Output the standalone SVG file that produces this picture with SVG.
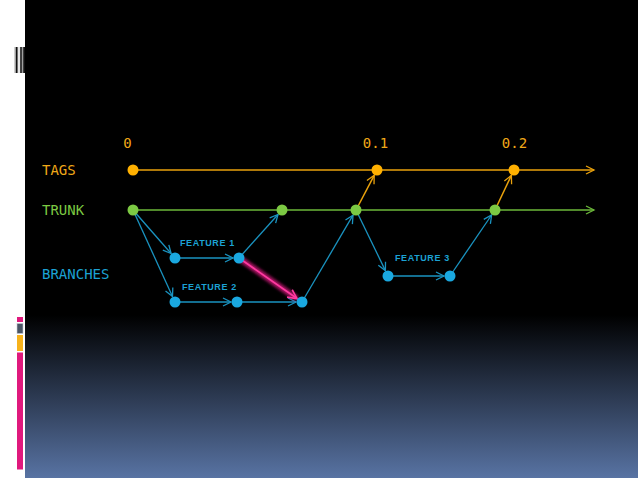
<svg xmlns="http://www.w3.org/2000/svg" width="638" height="478" viewBox="0 0 638 478">
<defs>
<linearGradient id="bg" gradientUnits="userSpaceOnUse" x1="0" y1="315" x2="0" y2="478">
<stop offset="0" stop-color="#000000"/>
<stop offset="1" stop-color="#5873a3"/>
</linearGradient>
<marker id="aB" markerUnits="userSpaceOnUse" markerWidth="12" markerHeight="12" refX="8" refY="4" orient="auto" overflow="visible">
<path d="M0,0 L8,4 L0,8" fill="none" stroke="#1a93c0" stroke-width="1.3"/>
</marker>
<marker id="aO" markerUnits="userSpaceOnUse" markerWidth="12" markerHeight="12" refX="8" refY="4" orient="auto" overflow="visible">
<path d="M0,0 L8,4 L0,8" fill="none" stroke="#eaa20c" stroke-width="1.3"/>
</marker>
<marker id="aG" markerUnits="userSpaceOnUse" markerWidth="12" markerHeight="12" refX="8" refY="4" orient="auto" overflow="visible">
<path d="M0,0 L8,4 L0,8" fill="none" stroke="#6cb83a" stroke-width="1.3"/>
</marker>
<marker id="aP" markerUnits="userSpaceOnUse" markerWidth="14" markerHeight="14" refX="9" refY="4.5" orient="auto" overflow="visible">
<path d="M0,0 L9,4.5 L0,9" fill="none" stroke="#ff3aa0" stroke-width="1.6"/>
</marker>
<filter id="glow" x="-20%" y="-20%" width="140%" height="140%">
<feGaussianBlur stdDeviation="1.5"/>
</filter>
</defs>
<style>
.lbl{font-family:"DejaVu Sans Mono","Liberation Mono",monospace;font-size:14px}
.feat{font-family:"Liberation Sans","DejaVu Sans",sans-serif;font-size:9px;letter-spacing:0.6px;fill:#1ca2d4;font-weight:bold}
.b{stroke:#1a93c0;stroke-width:1.3;fill:none}
.o{stroke:#eaa20c;stroke-width:1.5;fill:none}
.g{stroke:#6cb83a;stroke-width:1.5;fill:none}
.nb{fill:#1aa8e0}
.no{fill:#ffb000}
.ng{fill:#7cc943}
</style>
<rect x="0" y="0" width="638" height="478" fill="#ffffff"/>
<rect x="25" y="0" width="613" height="478" fill="url(#bg)"/>
<g id="icon">
<rect x="14.5" y="47" width="10.5" height="26" fill="#a0a0a0"/>
<rect x="16" y="47" width="1.7" height="26" fill="#111"/>
<rect x="17.7" y="47" width="2.6" height="26" fill="#e8e8e8"/>
<rect x="20.3" y="47" width="1.4" height="26" fill="#111"/>
<rect x="23.3" y="47" width="1.7" height="26" fill="#111"/>
</g>
<g id="sidebars">
<rect x="17" y="317" width="6" height="5" fill="#e0197d"/>
<rect x="17" y="323.5" width="6" height="10" fill="#4a5566" stroke="#c8ccd4" stroke-width="0.6"/>
<rect x="17" y="335" width="6" height="16" fill="#f7b21b"/>
<rect x="17" y="352.5" width="6" height="117" fill="#e0197d"/>
</g>
<g id="labels">
<text class="lbl" x="127.5" y="148" text-anchor="middle" fill="#f0a818">0</text>
<text class="lbl" x="375.5" y="148" text-anchor="middle" fill="#f0a818">0.1</text>
<text class="lbl" x="514.5" y="148" text-anchor="middle" fill="#f0a818">0.2</text>
<text class="lbl" x="42" y="175" fill="#f0a818">TAGS</text>
<text class="lbl" x="42" y="215" fill="#7cc943">TRUNK</text>
<text class="lbl" x="42" y="279" fill="#1ca2d4">BRANCHES</text>
<text class="feat" x="180" y="246">FEATURE 1</text>
<text class="feat" x="182" y="290">FEATURE 2</text>
<text class="feat" x="395" y="261">FEATURE 3</text>
</g>
<g id="connectors">
<line class="o" x1="133" y1="170" x2="594" y2="170" marker-end="url(#aO)"/>
<line class="g" x1="133" y1="210" x2="594" y2="210" marker-end="url(#aG)"/>
<line class="b" x1="133" y1="210" x2="171.1" y2="253.5" marker-end="url(#aB)"/>
<line class="b" x1="133" y1="210" x2="172.5" y2="296.5" marker-end="url(#aB)"/>
<line class="b" x1="175" y1="258" x2="233" y2="258" marker-end="url(#aB)"/>
<line class="b" x1="239" y1="258" x2="278" y2="214.5" marker-end="url(#aB)"/>
<line class="b" x1="175" y1="302" x2="231" y2="302" marker-end="url(#aB)"/>
<line class="b" x1="237" y1="302" x2="296" y2="302" marker-end="url(#aB)"/>
<line class="b" x1="302" y1="302" x2="353" y2="215.2" marker-end="url(#aB)"/>
<line class="b" x1="356" y1="210" x2="385.4" y2="270.6" marker-end="url(#aB)"/>
<line class="b" x1="388" y1="276" x2="444" y2="276" marker-end="url(#aB)"/>
<line class="b" x1="450" y1="276" x2="491.6" y2="215" marker-end="url(#aB)"/>
<line class="o" x1="356" y1="210" x2="374.2" y2="175.3" marker-end="url(#aO)"/>
<line class="o" x1="495" y1="210" x2="511.4" y2="175.4" marker-end="url(#aO)"/>
<line x1="239" y1="258" x2="297" y2="298.6" stroke="#d0147a" stroke-width="6" opacity="0.8" filter="url(#glow)"/>
<line x1="239" y1="258" x2="297" y2="298.6" stroke="#ff3aa0" stroke-width="1.8" marker-end="url(#aP)"/>
</g>
<g id="nodes">
<circle id="t0" class="no" cx="133" cy="170" r="5.5"/>
<circle id="t1" class="no" cx="377" cy="170" r="5.5"/>
<circle id="t2" class="no" cx="514" cy="170" r="5.5"/>
<circle id="g0" class="ng" cx="133" cy="210" r="5.5"/>
<circle id="g1" class="ng" cx="282" cy="210" r="5.5"/>
<circle id="g2" class="ng" cx="356" cy="210" r="5.5"/>
<circle id="g3" class="ng" cx="495" cy="210" r="5.5"/>
<circle id="f1a" class="nb" cx="175" cy="258" r="5.5"/>
<circle id="f1b" class="nb" cx="239" cy="258" r="5.5"/>
<circle id="f2a" class="nb" cx="175" cy="302" r="5.5"/>
<circle id="f2b" class="nb" cx="237" cy="302" r="5.5"/>
<circle id="f2c" class="nb" cx="302" cy="302" r="5.5"/>
<circle id="f3a" class="nb" cx="388" cy="276" r="5.5"/>
<circle id="f3b" class="nb" cx="450" cy="276" r="5.5"/>
</g>
</svg>
